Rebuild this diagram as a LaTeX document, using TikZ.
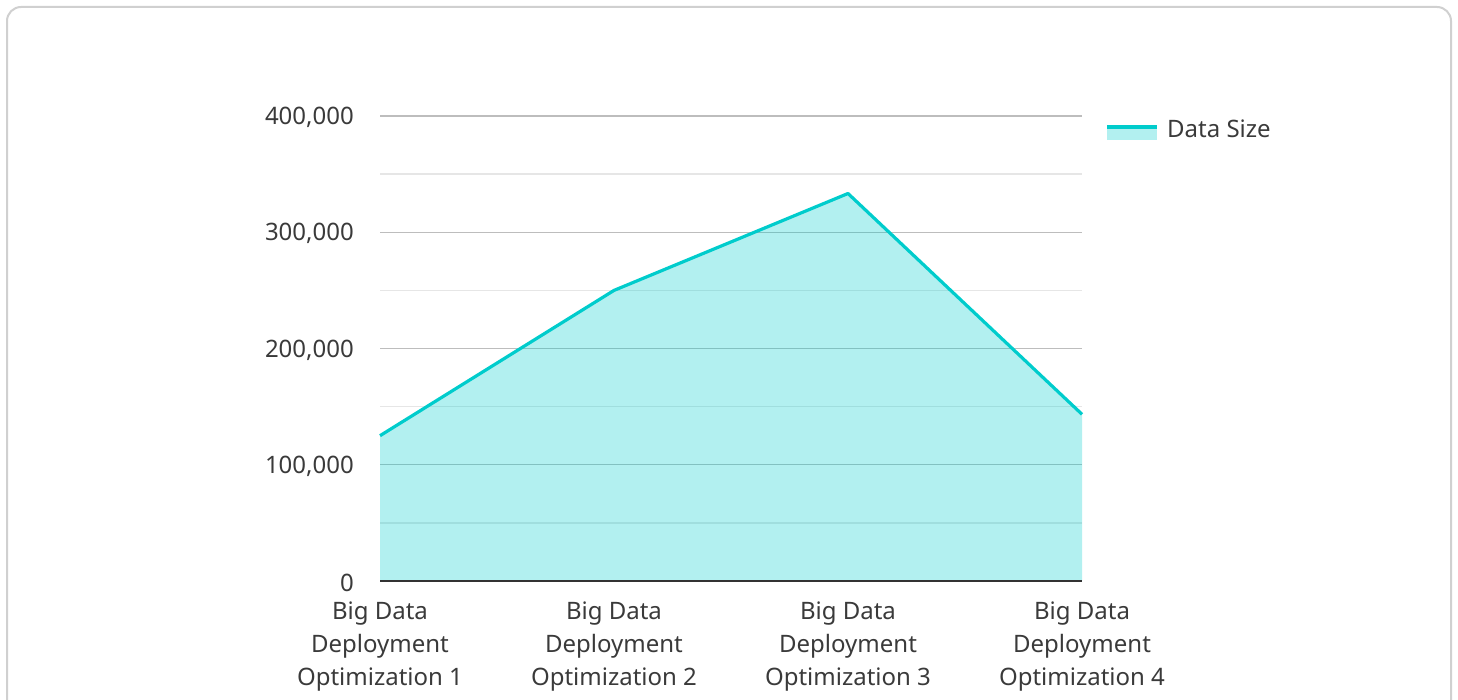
\documentclass[tikz,border=0pt]{standalone}
\usepackage{fontspec}
\setmainfont{Noto Sans}
\definecolor{teal1}{HTML}{00CCCC}
\definecolor{txt}{HTML}{3A3A3A}
\definecolor{gridmaj}{HTML}{BDBDBD}
\definecolor{gridmin}{HTML}{E6E6E6}
\definecolor{frame}{HTML}{D0D0D0}
\begin{document}
\begin{tikzpicture}[x=1pt,y=-1pt,
  ylab/.style={anchor=east,font=\fontsize{24}{28}\selectfont,text=txt,inner sep=0pt},
  xlab/.style={anchor=north,align=center,font=\fontsize{24}{33}\selectfont,text=txt,inner sep=0pt},
  majgrid/.style={draw=gridmaj,line width=1.2pt},
  mingrid/.style={draw=gridmin,line width=1.2pt},
  series/.style={draw=teal1,line width=3.2pt,line join=round},
  area/.style={fill=teal1,fill opacity=0.3}]
\useasboundingbox (0,0) rectangle (1458,700);
\draw[frame,line width=2pt,rounded corners=14pt] (7,7) -- (1451,7) -- (1451,720) -- (7,720) -- cycle;
% grid
\foreach \y in {174.1,290.4,406.6,522.9} \draw[mingrid] (380,\y) -- (1082,\y);
\foreach \y in {116,232.3,348.5,464.8} \draw[majgrid] (380,\y) -- (1082,\y);
% data points
\coordinate (p1) at (380,435.7);
\coordinate (p2) at (614,290.4);
\coordinate (p3) at (848,193.5);
\coordinate (p4) at (1082,414.3);
\coordinate (b1) at (380,581);
\coordinate (b4) at (1082,581);
\fill[area] (b1) -- (p1) -- (p2) -- (p3) -- (p4) -- (b4) -- cycle;
\draw[series] (p1) -- (p2) -- (p3) -- (p4);
\draw[draw=black!80,line width=2pt] (b1) -- (b4);
% y labels
\node[ylab] (y0) at (354,582.5) {0};
\node[ylab] (y1) at (354,466.3) {100,000};
\node[ylab] (y2) at (354,350) {200,000};
\node[ylab] (y3) at (354,233.8) {300,000};
\node[ylab] (y4) at (354,117.5) {400,000};
% x labels
\node[xlab] (x1) at (380,602) {Big Data\\Deployment\\Optimization 1};
\node[xlab] (x2) at (614,602) {Big Data\\Deployment\\Optimization 2};
\node[xlab] (x3) at (848,602) {Big Data\\Deployment\\Optimization 3};
\node[xlab] (x4) at (1082,602) {Big Data\\Deployment\\Optimization 4};
% legend
\coordinate (l1) at (1107,127);
\coordinate (l2) at (1157,140);
\fill[area] (l1) rectangle (l2);
\draw[series] (1107,127) -- (1157,127);
\node[anchor=west,font=\fontsize{24}{28}\selectfont,text=txt,inner sep=0pt] (leg) at (1167,128.5) {Data Size};
\end{tikzpicture}
\end{document}
